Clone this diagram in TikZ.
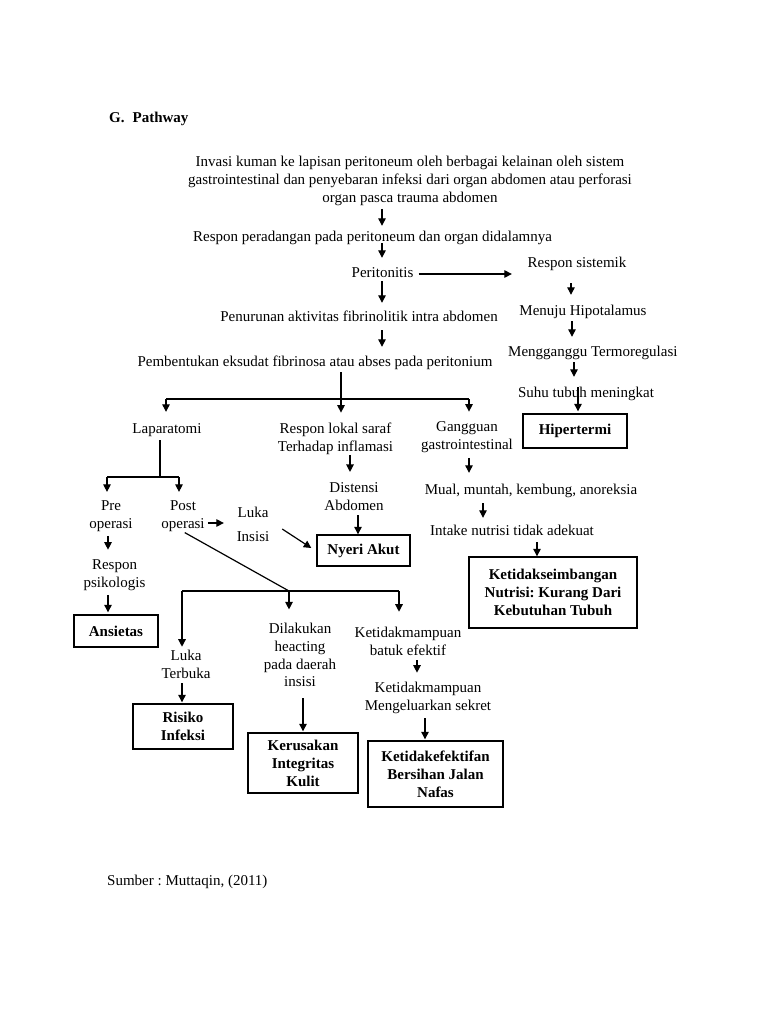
\documentclass[tikz,border=0pt]{standalone}
\usepackage{fontspec}
\setmainfont{Liberation Serif}
\usetikzlibrary{arrows.meta}
\frenchspacing
\begin{document}
\begin{tikzpicture}[x=1pt,y=-1pt,
  every node/.style={font=\fontsize{15}{17.8}\selectfont},
  txt/.style={inner sep=0pt, text height=10.5pt, text depth=3.5pt},
  ml/.style={inner sep=0pt, align=center},
  bx/.style={draw, line width=1.4pt, inner sep=0pt, align=center, font=\fontsize{15}{18}\selectfont\bfseries},
  arr/.style={-{Triangle[length=7.5pt,width=7.5pt]}, line width=1.2pt},
  ln/.style={line width=1.2pt}]
\fill[white] (0,0) rectangle (768,1024);
\useasboundingbox (0,0) rectangle (768,1024);

% nodes
\node[txt, anchor=west, font=\fontsize{15}{17.8}\selectfont\bfseries] (gp) at (109,119) {G.\hspace{8pt}Pathway};
\node[ml] (title) at (410,181) {Invasi kuman ke lapisan peritoneum oleh berbagai kelainan oleh sistem\\gastrointestinal dan penyebaran infeksi dari organ abdomen atau perforasi\\organ pasca trauma abdomen};
\node[txt, anchor=west] (resp) at (193,238) {Respon peradangan pada peritoneum dan organ didalamnya};
\node[txt] (perit) at (382.5,274) {Peritonitis};
\node[txt] (sist) at (577,264) {Respon sistemik};
\node[txt] (hipo) at (583,312) {Menuju Hipotalamus};
\node[txt, anchor=west] (termo) at (508,353) {Mengganggu Termoregulasi};
\node[txt] (suhu) at (586,394) {Suhu tubuh meningkat};
\node[bx, minimum width=104pt, minimum height=34pt] (hiper) at (575,431) {Hipertermi};
\node[txt] (penur) at (359,318) {Penurunan aktivitas fibrinolitik intra abdomen};
\node[txt] (pemb) at (315,363) {Pembentukan eksudat fibrinosa atau abses pada peritonium};
\node[txt] (lap) at (167,430) {Laparatomi};
\node[ml] (lokal) at (335.5,439) {Respon lokal saraf\\Terhadap inflamasi};
\node[ml] (gang) at (467,437) {Gangguan\\gastrointestinal};
\node[ml] (dist) at (354,496.5) {Distensi\\Abdomen};
\node[bx, minimum width=93pt, minimum height=31pt] (nyeri) at (363.5,550.5) {Nyeri Akut};
\node[txt] (mual) at (531,491) {Mual, muntah, kembung, anoreksia};
\node[txt] (intake) at (512,532) {Intake nutrisi tidak adekuat};
\node[bx, minimum width=168pt, minimum height=71pt] (nutri) at (553,592.5) {Ketidakseimbangan\\Nutrisi: Kurang Dari\\Kebutuhan Tubuh};
\node[ml] (pre) at (111,516) {Pre\\operasi};
\node[ml] (post) at (183,516) {Post\\operasi};
\node[ml] (luka) at (253,524.5) {Luka\\[6pt]Insisi};
\node[ml] (psik) at (114.5,575) {Respon\\psikologis};
\node[bx, minimum width=84pt, minimum height=32pt] (ans) at (116,631) {Ansietas};
\node[ml] (lukat) at (186,664.5) {Luka\\Terbuka};
\node[bx, minimum width=100pt, minimum height=45pt] (risiko) at (183,726.5) {Risiko\\Infeksi};
\node[ml] (dilak) at (300,655) {Dilakukan\\heacting\\pada daerah\\insisi};
\node[bx, minimum width=110pt, minimum height=60pt] (kerus) at (303,763) {Kerusakan\\Integritas\\Kulit};
\node[ml] (batuk) at (408,641.5) {Ketidakmampuan\\batuk efektif};
\node[ml] (sekret) at (428,698) {Ketidakmampuan\\Mengeluarkan sekret};
\node[bx, minimum width=135pt, minimum height=66pt] (efek) at (435.5,774) {Ketidakefektifan\\Bersihan Jalan\\Nafas};
\node[txt, anchor=west] (sumber) at (107,882) {Sumber : Muttaqin, (2011)};

% coordinates for branch points
\coordinate (bL) at (166,399);
\coordinate (bR) at (469,399);
\coordinate (lJ) at (160,477);
\coordinate (lP) at (107,477);
\coordinate (lQ) at (179,477);
\coordinate (bb1) at (182,591);
\coordinate (bb2) at (289,591);
\coordinate (bb3) at (399,591);

% main chain
\draw[arr, shorten <=3pt, shorten >=5pt] (title.south -| 382,0) -- (resp.north -| 382,0);
\draw[arr, shorten <=-2pt, shorten >=9pt] (resp.south -| 382,0) -- (perit.north -| 382,0);
\draw[arr, shorten <=5pt, shorten >=15.6pt] (perit.east) -- (sist.west |- perit.east);
\draw[arr, shorten >=8pt] (perit.south -| 382,0) -- (penur.north -| 382,0);
\draw[arr, shorten <=5pt, shorten >=9pt] (penur.south -| 382,0) -- (pemb.north -| 382,0);

% right column
\draw[arr, shorten <=12pt, shorten >=10pt] (sist.south -| 571,0) -- (hipo.north -| 571,0);
\draw[arr, shorten <=2pt, shorten >=9pt] (hipo.south -| 572,0) -- (termo.north -| 572,0);
\draw[arr, shorten <=2pt, shorten >=10pt] (termo.south -| 574,0) -- (suhu.north -| 574,0);
\draw[arr, shorten >=2pt] (suhu.north -| 578,0) -- (hiper.north -| 578,0);

% three-way branch
\draw[arr, shorten <=2pt, shorten >=10.4pt] (pemb.south -| 341,0) -- (lokal.north -| 341,0);
\draw[ln] (bL) -- (bR);
\draw[arr, shorten >=11pt] (bL) -- (lap.north -| bL);
\draw[arr, shorten >=9.7pt] (bR) -- (gang.north -| bR);

% Laparatomi branch
\draw[ln, shorten <=3pt] (lap.south -| lJ) -- (lJ);
\draw[ln] (lP) -- (lQ);
\draw[arr, shorten >=8.5pt] (lP) -- (pre.north -| lP);
\draw[arr, shorten >=8.5pt] (lQ) -- (post.north -| lQ);
\draw[arr, shorten <=4.3pt, shorten >=9.7pt] (pre.south -| 108,0) -- (psik.north -| 108,0);
\draw[arr, shorten <=4.3pt, shorten >=2pt] (psik.south -| 108,0) -- (ans.north -| 108,0);
\draw[arr, shorten <=3pt, shorten >=12.7pt] (post.east |- 0,523) -- (luka.west |- 0,523);
\draw[arr] ([xshift=12.75pt,yshift=-4.5pt]luka.east) -- ([xshift=-5pt,yshift=2.5pt]nyeri.west);

% local response
\draw[arr, shorten >=10.4pt] (lokal.south -| 350,0) -- (dist.north -| 350,0);
\draw[arr, shorten <=4.6pt] (dist.south -| 358,0) -- (nyeri.north -| 358,0);

% gastrointestinal
\draw[arr, shorten <=5.3pt, shorten >=11pt] (gang.south -| 469,0) -- (mual.north -| 469,0);
\draw[arr, shorten <=5pt, shorten >=7pt] (mual.south -| 483,0) -- (intake.north -| 483,0);
\draw[arr, shorten <=3pt] (intake.south -| 537,0) -- (nutri.north -| 537,0);

% post operasi branch
\draw[ln, shorten <=2pt] (post.south) -- (bb2);
\draw[ln] (bb1) -- (bb3);
\draw[arr, shorten >=3.4pt] (bb1) -- (lukat.north -| bb1);
\draw[arr, shorten >=13.4pt] (bb2) -- (dilak.north -| bb2);
\draw[arr, shorten >=15.4pt] (bb3) -- (batuk.north -| bb3);
\draw[arr, shorten <=4.6pt, shorten >=1pt] (lukat.south -| 182,0) -- (risiko.north -| 182,0);
\draw[arr, shorten <=11pt, shorten >=1pt] (dilak.south -| 303,0) -- (kerus.north -| 303,0);
\draw[arr, shorten <=4.6pt, shorten >=9.4pt] (batuk.south -| 417,0) -- (sekret.north -| 417,0);
\draw[arr, shorten <=4.3pt, shorten >=1pt] (sekret.south -| 425,0) -- (efek.north -| 425,0);
\end{tikzpicture}
\end{document}
